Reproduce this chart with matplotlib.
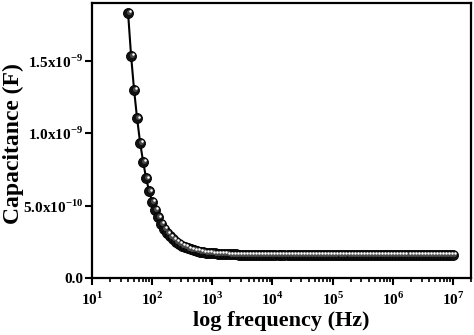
import numpy as np
import matplotlib
matplotlib.use("Agg")
import matplotlib.pyplot as plt
from matplotlib.ticker import LogLocator, FuncFormatter, NullFormatter
from matplotlib.transforms import offset_copy

# sweep frequencies (Hz), 20 points per decade
freq_hz = [
    39.8, 44.7, 50.1, 56.2, 63.1, 70.8, 79.4, 89.1,
    100, 112, 126, 141, 158, 178, 200, 224, 251, 282,
    316, 355, 398, 447, 501, 562, 631, 708, 794, 891,
    1.00e3, 1.12e3, 1.26e3, 1.41e3, 1.58e3, 1.78e3, 2.00e3, 2.24e3, 2.51e3, 2.82e3,
    3.16e3, 3.55e3, 3.98e3, 4.47e3, 5.01e3, 5.62e3, 6.31e3, 7.08e3, 7.94e3, 8.91e3,
    1.00e4, 1.12e4, 1.26e4, 1.41e4, 1.58e4, 1.78e4, 2.00e4, 2.24e4, 2.51e4, 2.82e4,
    3.16e4, 3.55e4, 3.98e4, 4.47e4, 5.01e4, 5.62e4, 6.31e4, 7.08e4, 7.94e4, 8.91e4,
    1.00e5, 1.12e5, 1.26e5, 1.41e5, 1.58e5, 1.78e5, 2.00e5, 2.24e5, 2.51e5, 2.82e5,
    3.16e5, 3.55e5, 3.98e5, 4.47e5, 5.01e5, 5.62e5, 6.31e5, 7.08e5, 7.94e5, 8.91e5,
    1.00e6, 1.12e6, 1.26e6, 1.41e6, 1.58e6, 1.78e6, 2.00e6, 2.24e6, 2.51e6, 2.82e6,
    3.16e6, 3.55e6, 3.98e6, 4.47e6, 5.01e6, 5.62e6, 6.31e6, 7.08e6, 7.94e6, 8.91e6,
    1.00e7,
]

# capacitance in units of 1e-10 F
cap_e10 = [
    18.33, 15.35, 13.00, 11.04, 9.36, 8.04, 6.90, 6.00, 5.28, 4.70,
    4.20, 3.76, 3.40, 3.10, 2.88, 2.68, 2.50, 2.36, 2.24, 2.14,
    2.05, 1.98, 1.92, 1.87, 1.83, 1.79, 1.76, 1.74, 1.72, 1.70,
    1.68, 1.67, 1.66, 1.65, 1.64, 1.635, 1.63, 1.625, 1.62, 1.618,
    1.615,
    1.613, 1.612, 1.611, 1.610, 1.610, 1.609, 1.609, 1.608, 1.608, 1.607, 1.607, 1.607, 1.606, 1.606, 1.606, 1.605, 1.605,
    1.605, 1.605, 1.604, 1.604, 1.604, 1.604, 1.603, 1.603, 1.603, 1.603, 1.603, 1.602, 1.602, 1.602, 1.602, 1.602, 1.602,
    1.602, 1.601, 1.601, 1.601, 1.601, 1.601, 1.601, 1.601, 1.600, 1.600, 1.600, 1.600, 1.600, 1.600, 1.600, 1.600, 1.600,
    1.600, 1.600, 1.599, 1.599, 1.599, 1.599, 1.599, 1.599, 1.599, 1.599, 1.598, 1.598, 1.598, 1.598, 1.598, 1.598, 1.598,
]

y_ticks = [0.0, 5.0e-10, 1.0e-9, 1.5e-9]
y_ticklabels = ["0.0", r"5.0x10$^{\mathregular{-10}}$",
                r"1.0x10$^{\mathregular{-9}}$", r"1.5x10$^{\mathregular{-9}}$"]

plt.rcParams["font.family"] = "Liberation Serif"
plt.rcParams["font.weight"] = "bold"

f = np.array(freq_hz)
c = np.array(cap_e10) * 1e-10

fig = plt.figure(figsize=(4.74, 3.35), dpi=100)
ax = fig.add_axes([0.194, 0.170, 0.800, 0.821])

# connecting line, then the "ball" markers in layers
ax.plot(f, c, color="black", lw=1.5, zorder=2)
ax.plot(f, c, ls="none", marker="o", ms=7.2, mfc="#111111", mec="#000000", mew=0.6, zorder=3)
mid = offset_copy(ax.transData, fig=fig, x=0.8, y=0.8, units="dots")
ax.plot(f, c, ls="none", marker="o", ms=3.6, mfc="#4a4a4a", mec="none", transform=mid, zorder=4)
hi = offset_copy(ax.transData, fig=fig, x=1.6, y=1.6, units="dots")
ax.plot(f, c, ls="none", marker="o", ms=1.8, mfc="white", mec="none", transform=hi, zorder=5)

ax.set_xscale("log")
ax.set_xlim(10, 2.0e7)
ax.set_ylim(0, 1.9e-9)

ax.xaxis.set_major_locator(LogLocator(base=10, numticks=12))
ax.xaxis.set_minor_locator(LogLocator(base=10, subs=np.arange(2, 10), numticks=12))
ax.xaxis.set_major_formatter(FuncFormatter(lambda v, p: r"10$^{\mathregular{%d}}$" % round(np.log10(v))))
ax.xaxis.set_minor_formatter(NullFormatter())
ax.set_xticks([1e1, 1e2, 1e3, 1e4, 1e5, 1e6, 1e7])

ax.set_yticks(y_ticks)
ax.set_yticklabels(y_ticklabels)

ax.tick_params(axis="both", which="major", direction="out", length=5, width=1.5,
               labelsize=11, top=False, right=False)
ax.tick_params(axis="y", which="major", pad=1.5)
ax.tick_params(axis="x", which="major", pad=4)
ax.tick_params(axis="x", which="minor", direction="out", length=3, width=1.2, top=False)
for lab in ax.get_xticklabels() + ax.get_yticklabels():
    lab.set_fontweight("bold")

for s in ax.spines.values():
    s.set_linewidth(1.6)

ax.set_xlabel("log frequency (Hz)", fontsize=16, fontweight="bold", labelpad=2)
ax.set_ylabel("Capacitance (F)", fontsize=17, fontweight="bold")
ax.yaxis.set_label_coords(-0.178, 0.49)

fig.savefig("out.png", dpi=100)
